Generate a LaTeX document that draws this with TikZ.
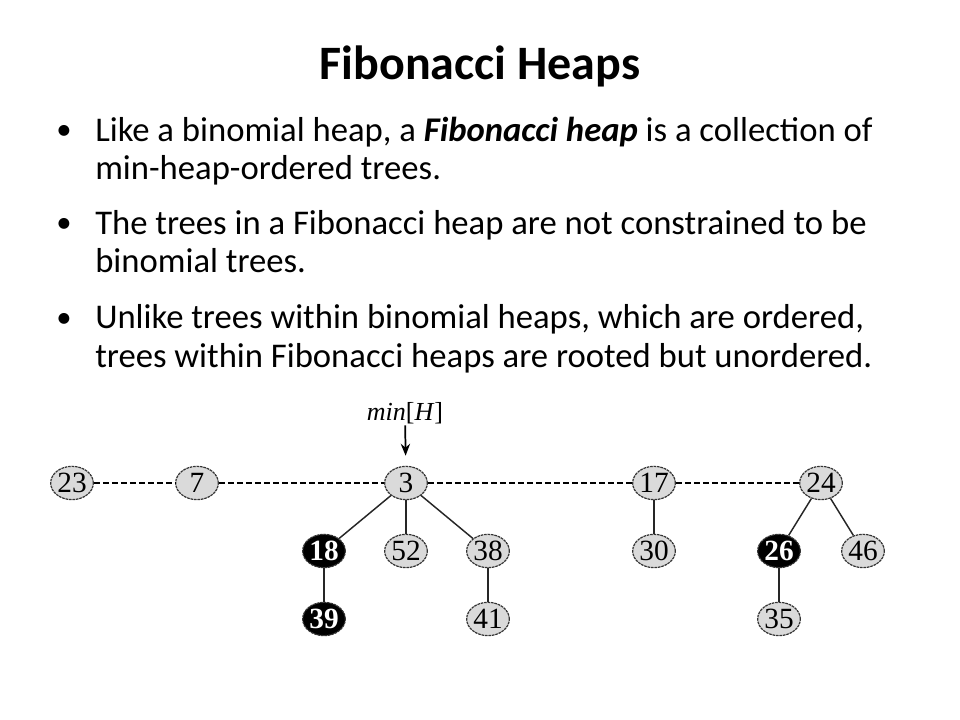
\documentclass[tikz,border=0pt]{standalone}
\usepackage{fontspec}
\setmainfont{Carlito}
\newfontfamily\figfont{Liberation Serif}
\usepackage{tikz}
\usetikzlibrary{arrows.meta, shapes.geometric, trees}
\definecolor{keygray}{RGB}{218,218,218}
\tikzstyle{heapkey} = [ellipse, draw=black!80, dash pattern=on 2pt off 0.6pt, line width=0.9pt, fill=keygray,
    minimum width=32pt, minimum height=25pt, inner sep=0pt, font=\figfont\fontsize{22}{22}\selectfont]
\tikzstyle{markedkey} = [heapkey, fill=black, text=white, font=\figfont\bfseries\fontsize{22}{22}\selectfont]

\begin{document}
\begin{tikzpicture}[x=0.75pt, y=0.75pt,
title/.style = {anchor=base, inner sep=0pt, font=\bfseries\fontsize{36}{43}\selectfont},
line/.style = {anchor=base west, inner sep=0pt, font=\fontsize{26}{31}\selectfont},
dot/.style = {anchor=base, inner sep=0pt, font=\fontsize{23}{27}\selectfont},
minlabel/.style = {inner sep=1pt, font=\figfont\fontsize{19.5}{19.5}\selectfont},
level distance = 51pt,
edge from parent/.style = {draw, solid, line width=1.1pt, black!85},
rootlist/.style = {draw, line width=1.1pt, dash pattern=on 4.5pt off 2.25pt},
                        ]
\useasboundingbox (0,0) rectangle (960,-720);
\node [title] (head) at (480,-80) {Fibonacci Heaps};

% bullets
\node [dot] (dot1) at (64,-140) {•};
\node [line] (l1a) at (95,-142) {Like a binomial heap, a \textbf{\textit{Fibonacci heap}} is a collection of};
\node [line] (l1b) at (95,-180) {min-heap-ordered trees.};
\node [dot] (dot2) at (64,-233) {•};
\node [line] (l2a) at (95,-235) {The trees in a Fibonacci heap are not constrained to be};
\node [line] (l2b) at (95,-273) {binomial trees.};
\node [dot] (dot3) at (64,-327) {•};
\node [line] (l3a) at (95,-329) {Unlike trees within binomial heaps, which are ordered,};
\node [line] (l3b) at (95,-367) {trees within Fibonacci heaps are rooted but unordered.};

% root list
\node [heapkey] (n23) at (72,-483) {23};
\node [heapkey] (n7) at (197,-483) {7};
\node [heapkey] (n3) at (406,-483) {3} [sibling distance=61.5pt]
	child { %level 2
      node [markedkey] (n18) {18}
      child { %level 3
      	node [markedkey] (n39) {39}
      }
	}
	child { %level 2
      node [heapkey] (n52) {52}
	}
	child { %level 2
      node [heapkey] (n38) {38}
      child { %level 3
      	node [heapkey] (n41) {41}
      }
	};
\node [heapkey] (n17) at (654,-483) {17}
	child { %level 2
      node [heapkey] (n30) {30}
	};
\node [heapkey] (n24) at (821,-483) {24} [sibling distance=63pt]
	child { %level 2
      node [markedkey] (n26) {26}
      child { %level 3
      	node [heapkey] (n35) {35}
      }
	}
	child { %level 2
      node [heapkey] (n46) {46}
	};
\draw [rootlist] (n23) -- (n7) -- (n3) -- (n17) -- (n24);

% min pointer
\node [minlabel] (minptr) at (405,-413) {\textit{min}[\textit{H}]};
\draw [-{Stealth[length=9pt, width=7pt]}, line width=1.3pt, shorten >=7.5pt] (minptr) -- (n3);
\end{tikzpicture}
\end{document}
